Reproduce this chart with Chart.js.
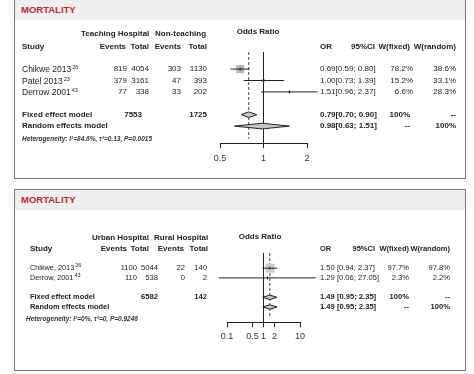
<!DOCTYPE html>
<html><head><meta charset="utf-8">
<script src="https://cdn.jsdelivr.net/npm/chart.js@4.4.1/dist/chart.umd.min.js"></script>
<style>
html,body{margin:0;padding:0;background:#fff;}
body{width:474px;height:374px;position:relative;overflow:hidden;font-family:"Liberation Sans",Arial,sans-serif;color:#222;}
.panel{position:absolute;border:1px solid #7a7a7a;background:#fff;box-sizing:border-box;}
.head{position:absolute;left:0;right:0;top:0;background:#efefef;}
.head span{position:absolute;left:6px;font-weight:bold;font-size:9.5px;line-height:12px;color:#c1272d;}
canvas{position:absolute;left:0;}
.t{position:absolute;white-space:nowrap;line-height:10px;font-size:8px;}
.b{font-weight:bold;}
.sup{font-size:5.5px;position:relative;top:-3px;margin-left:1px;}
.het{font-style:italic;font-weight:bold;font-size:6.5px;color:#333;}
</style></head><body>
<div class="panel" style="left:14px;top:-1px;width:452px;height:180px"><div class="head" style="height:20px"><span style="top:4px">MORTALITY</span></div></div>
<div class="panel" style="left:14px;top:189px;width:452px;height:182px"><div class="head" style="height:20px"><span style="top:4px">MORTALITY</span></div></div>
<canvas id="c1" width="474" height="185" style="top:0px"></canvas>
<canvas id="c2" width="474" height="189" style="top:185px"></canvas>
<div id="txt"></div>
<script>
// Panel 1: teaching vs non-teaching hospital
const studies1 = ['Chikwe 2013', 'Patel 2013', 'Derrow 2001'];
const refs1 = ['26', '23', '43'];
const teachEvents = [819, 379, 77];
const teachTotal = [4054, 3161, 338];
const nonTeachEvents = [303, 47, 33];
const nonTeachTotal = [1130, 393, 202];
const or1 = [0.69, 1.00, 1.51];
const lo1 = [0.59, 0.73, 0.96];
const hi1 = [0.80, 1.39, 2.37];
const wFixed1 = [78.2, 15.2, 6.6];
const wRandom1 = [38.6, 33.1, 28.3];
const fixed1 = [0.79, 0.70, 0.90];   // OR, lower, upper
const random1 = [0.98, 0.63, 1.51];
const totals1 = [7553, 1725];
const ticks1 = [0.5, 1, 2];
const het1 = 'Heterogeneity: I\u00b2=84.6%, \u03c4\u00b2=0.13, P=0.0015';

// Panel 2: urban vs rural hospital
const studies2 = ['Chikwe, 2013', 'Derrow, 2001'];
const refs2 = ['26', '43'];
const urbanEvents = [1100, 110];
const urbanTotal = [5044, 538];
const ruralEvents = [22, 0];
const ruralTotal = [140, 2];
const or2 = [1.50, 1.29];
const lo2 = [0.94, 0.06];
const hi2 = [2.37, 27.05];
const wFixed2 = [97.7, 2.3];
const wRandom2 = [97.8, 2.2];
const fixed2 = [1.49, 0.95, 2.35];
const random2 = [1.49, 0.95, 2.35];
const totals2 = [6582, 142];
const ticks2 = [0.1, 0.5, 1, 2, 10];
const het2 = 'Heterogeneity: I\u00b2=0%, \u03c4\u00b2=0, P=0.9246';

function seg(points, extra) {
  return Object.assign({data: points, showLine: true, pointRadius: 0, borderColor: '#222',
    borderWidth: 1, clip: false, fill: false}, extra || {});
}

function forest(id, p) {
  const rows = p.or.map((_, i) => i + 1);
  const fRow = p.or.length + 2, rRow = p.or.length + 3;
  const ds = [];
  p.or.forEach((v, i) => ds.push(seg([{x: p.lo[i], y: rows[i]}, {x: p.hi[i], y: rows[i]}])));
  ds.push({data: p.or.map((v, i) => ({x: v, y: rows[i]})), pointStyle: 'line', rotation: 90,
    pointRadius: 1.5, borderColor: '#222', borderWidth: 1, clip: false});
  ds.push({data: p.or.map((v, i) => ({x: v, y: rows[i]})), pointStyle: 'rect',
    pointRadius: p.wFixed.map(w => Math.max(1.4, 0.64 * Math.sqrt(w))),
    backgroundColor: p.sq, borderWidth: 0, clip: false});
  [[p.fixed, fRow], [p.random, rRow]].forEach(([d, r]) => ds.push(seg([
    {x: d[1], y: r}, {x: d[0], y: r - p.dh}, {x: d[2], y: r}, {x: d[0], y: r + p.dh}, {x: d[1], y: r}
  ], {fill: 'shape', backgroundColor: '#c6c6c6'})));
  ds.push(seg([{x: 1, y: p.yMin}, {x: 1, y: p.yMax}]));
  ds.push(seg([{x: p.fixed[0], y: p.yMin}, {x: p.fixed[0], y: p.dashEnd}], {borderDash: [3, 2], borderColor: '#444'}));

  return new Chart(document.getElementById(id), {
    type: 'scatter',
    data: {datasets: ds},
    options: {
      responsive: false, animation: false, events: [],
      layout: {padding: p.pad},
      plugins: {legend: {display: false}, tooltip: {enabled: false}},
      scales: {
        x: {
          type: 'logarithmic', min: p.ticks[0], max: p.ticks[p.ticks.length - 1],
          afterBuildTicks: s => { s.ticks = p.ticks.map(v => ({value: v})); },
          ticks: {callback: v => String(v), color: '#333', padding: p.tickPad, font: {size: 9, family: 'Liberation Sans'}, maxRotation: 0, autoSkip: false},
          grid: {drawOnChartArea: false, drawTicks: true, tickLength: 5, color: '#222'},
          border: {display: true, color: '#222', width: 1}
        },
        y: {type: 'linear', reverse: true, min: p.yMin, max: p.yMax, display: false}
      }
    }
  });
}

const chart1 = forest('c1', {or: or1, lo: lo1, hi: hi1, wFixed: wFixed1, fixed: fixed1, random: random1,
  ticks: ticks1, yMin: -0.5, yMax: 7.5, dashEnd: 7.1, dh: 0.25, sq: '#b4b4b4', tickPad: 5,
  pad: {left: 220, right: 167, top: 52, bottom: 16}});
const chart2 = forest('c2', {or: or2, lo: lo2, hi: hi2, wFixed: wFixed2, fixed: fixed2, random: random2,
  ticks: ticks2, yMin: -0.56, yMax: 6.56, dashEnd: 6.0, dh: 0.23, sq: '#cccccc', tickPad: 4,
  pad: {left: 227, right: 174, top: 68, bottom: 28}});

// text columns
const box = document.getElementById('txt');
function T(str, x, y, align, cls, fs, sup) {
  const d = document.createElement('div');
  d.className = 't ' + (cls || '');
  d.textContent = str;
  if (fs) d.style.fontSize = fs + 'px';
  if (sup) { const s = document.createElement('span'); s.className = 'sup'; s.textContent = sup; d.appendChild(s); }
  if (align === 'r') d.style.right = (474 - x) + 'px';
  else if (align === 'c') { d.style.left = x + 'px'; d.style.transform = 'translateX(-50%)'; }
  else d.style.left = x + 'px';
  d.style.top = (y - 5) + 'px';
  box.appendChild(d);
}
const ci = (d, sp) => d[0].toFixed(2) + sp + '[' + d[1].toFixed(2) + '; ' + d[2].toFixed(2) + ']';

function table(chart, top, c, p) {
  const ry = r => top + chart.scales.y.getPixelForValue(r);
  T(p.g1, c.g1, c.hy1, 'l', 'b'); T(p.g2, c.g2, c.hy1, 'l', 'b');
  T('Odds Ratio', c.orTitle, c.hyOR, 'c', 'b');
  T('Study', c.name, c.hy2, 'l', 'b');
  T('Events', c.he1, c.hy2, 'r', 'b'); T('Total', c.ht1, c.hy2, 'r', 'b');
  T('Events', c.he2, c.hy2, 'r', 'b'); T('Total', c.ht2, c.hy2, 'r', 'b');
  T('OR', c.orx, c.hy2, 'l', 'b', c.fsH); T('95%CI', c.cir, c.hy2, 'r', 'b', c.fsH);
  T('W(fixed)', c.hwf, c.hy2, 'r', 'b', c.fsH); T('W(random)', c.wr, c.hy2, 'r', 'b', c.fsH);
  p.names.forEach((n, i) => {
    const y = ry(i + 1);
    T(n, c.name, y, 'l', '', c.fsN, p.refs[i]);
    T(String(p.e1[i]), c.e1, y, 'r', '', c.fsV); T(String(p.t1[i]), c.t1, y, 'r', '', c.fsV);
    T(String(p.e2[i]), c.e2, y, 'r', '', c.fsV); T(String(p.t2[i]), c.t2, y, 'r', '', c.fsV);
    T(ci([p.or[i], p.lo[i], p.hi[i]], c.sp), c.orx, y, 'l', '', c.fsV);
    T(p.wf[i].toFixed(1) + '%', c.wf, y, 'r', '', c.fsV); T(p.wr[i].toFixed(1) + '%', c.wr, y, 'r', '', c.fsV);
  });
  const n = p.names.length;
  const fy = ry(n + 2), ryy = ry(n + 3);
  T('Fixed effect model', c.name, fy, 'l', 'b', c.fsM);
  T(String(p.totals[0]), c.tot1, fy, 'r', 'b', c.fsV); T(String(p.totals[1]), c.t2, fy, 'r', 'b', c.fsV);
  T(ci(p.fixed, c.sp), c.orx, fy, 'l', 'b', c.fsV); T('100%', c.wf2, fy, 'r', 'b', c.fsV); T('--', c.wr, fy, 'r', 'b', c.fsV);
  T('Random effects model', c.name, ryy, 'l', 'b', c.fsM);
  T(ci(p.random, c.sp), c.orx, ryy, 'l', 'b', c.fsV); T('--', c.wf2, ryy, 'r', 'b', c.fsV); T('100%', c.wr, ryy, 'r', 'b', c.fsV);
  T(p.het, c.het, ry(n + c.hetRow), 'l', 'het');
}

table(chart1, 0, {g1: 81, g2: 155, hy1: 34, hy2: 47, hyOR: 32, orTitle: 258, name: 22,
  he1: 126, ht1: 149, he2: 181, ht2: 207, e1: 127, t1: 149, e2: 181, t2: 207, tot1: 142,
  orx: 320, cir: 375, hwf: 410, wf: 413, wf2: 410, wr: 456, sp: '', het: 22, hetRow: 4.1,
  fsH: 8, fsN: 8.5, fsV: 8, fsM: 8},
  {g1: 'Teaching Hospital', g2: 'Non-teaching', names: studies1, refs: refs1,
   e1: teachEvents, t1: teachTotal, e2: nonTeachEvents, t2: nonTeachTotal,
   or: or1, lo: lo1, hi: hi1, wf: wFixed1, wr: wRandom1, totals: totals1,
   fixed: fixed1, random: random1, het: het1});

table(chart2, 185, {g1: 92, g2: 154, hy1: 238, hy2: 249, hyOR: 237, orTitle: 260, name: 30,
  he1: 127, ht1: 149, he2: 184, ht2: 208, e1: 137, t1: 158, e2: 185, t2: 207, tot1: 158,
  orx: 320, cir: 375, hwf: 409, wf: 409, wf2: 409, wr: 450, sp: ' ', het: 26, hetRow: 4.27,
  fsH: 7.5, fsN: 7.3, fsV: 7.6, fsM: 7.4},
  {g1: 'Urban Hospital', g2: 'Rural Hospital', names: studies2, refs: refs2,
   e1: urbanEvents, t1: urbanTotal, e2: ruralEvents, t2: ruralTotal,
   or: or2, lo: lo2, hi: hi2, wf: wFixed2, wr: wRandom2, totals: totals2,
   fixed: fixed2, random: random2, het: het2});
</script>
</body></html>
